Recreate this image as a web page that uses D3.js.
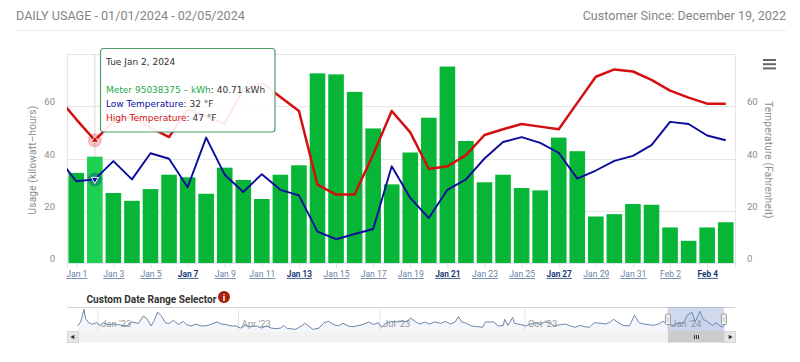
<!DOCTYPE html>
<html><head><meta charset="utf-8">
<script src="https://cdn.jsdelivr.net/npm/d3@7/dist/d3.min.js"></script>
<style>
html,body{margin:0;padding:0;background:#fff;}
svg{display:block;font-family:Roboto,sans-serif;}
</style></head><body>
<svg id="c" width="800" height="362"></svg>
<script>
const days = ["Jan 1","Jan 2","Jan 3","Jan 4","Jan 5","Jan 6","Jan 7","Jan 8","Jan 9","Jan 10","Jan 11","Jan 12","Jan 13","Jan 14","Jan 15","Jan 16","Jan 17","Jan 18","Jan 19","Jan 20","Jan 21","Jan 22","Jan 23","Jan 24","Jan 25","Jan 26","Jan 27","Jan 28","Jan 29","Jan 30","Jan 31","Feb 1","Feb 2","Feb 3","Feb 4","Feb 5"];
const boldDays = ["Jan 7","Jan 13","Jan 21","Jan 27","Feb 4"];
const usage = [34.5,40.71,26.8,23.8,28.3,33.8,32.8,26.5,36.5,31.8,24.5,33.8,37.4,72.6,72.2,65.5,51.5,30.1,42.3,55.6,75.2,46.7,30.9,33.8,28.7,27.8,48,42.8,17.8,18.7,22.6,22.3,13.6,8.5,13.6,15.6];
// Temperature series begin one day before the window (Dec 31), clipped by the plot edge
const lowTemp = [40.4,31.3,32,39,32,42,39.9,29,48,33.8,27.2,34,28,25.9,12,9.1,11.1,13,37,24.9,17.2,28,32,40,46.3,48.2,46,42.2,32.3,35.4,39.1,41,45.1,54,53.2,48.8,47];
const highTemp = [63.5,55,47,54,56,51.8,48.2,59,56,53.3,66.5,69,63.5,58.2,30,26.2,26.2,41.5,58.2,50,36,37,41.3,49,51.2,53.2,52.2,51.2,61.3,71.3,74.1,73.3,70.1,66,63.3,61,61];
const yTicks = [0,20,40,60,80];
const navDays = [9,11,13,14,16,18,21,23,25,28,31,34,37,40,43,47,50,52,55,57,59,61,64,66,69,72,75,77,80,83,86,89,92,96,99,102,105,108,111,114,117,121,124,127,130,133,136,138,140,
142,145,148,151,153,156,160,163,166,169,172,175,178,181,185,188,191,194,197,199,202,205,208,212,215,217,220,223,226,229,232,236,239,242,245,247,249,252,255,259,262,264,267,269,272,275,276,278,281,
282,286,289,292,295,298,301,304,307,311,314,317,320,323,326,329,332,336,339,342,344,347,350,354,357,360,363,366,369,372,375,378,381,384,388,390,393,395,398,400,403,406,408,412,414];
const navUsage = [19,34,81,46,31,25,31,21,31,24,26,24,21,19,34,28,56,49,19,40,71,59,31,28,40,24,36,24,19,26,19,19,24,34,26,24,19,19,11,21,16,19,11,19,11,9,11,21,9,
9,6,15,29,21,6,11,31,36,24,19,29,19,16,21,26,34,24,31,14,31,36,34,36,34,49,36,26,34,26,34,29,36,26,34,54,34,29,19,16,14,34,34,34,19,21,44,21,51,
29,24,19,26,31,24,34,31,19,24,26,19,14,21,16,14,31,29,26,34,44,31,21,19,59,31,26,24,21,26,36,26,21,29,31,59,71,34,74,44,34,21,31,14,26];
const navTickDays = [21.8,109.6,198,288.6,378];
const navTickLabels = ["Jan '23","Apr '23","Jul '23","Oct '23","Jan '24"];
const selection = [378,413];
const hoverIndex = 1;
const tooltipDate = "Tue Jan 2, 2024";
const tooltipRows = [
  {name:"Meter 95038375 – kWh", color:"#1fa84a", value:"40.71 kWh"},
  {name:"Low Temperature", color:"#0b0ba0", value:"32 °F"},
  {name:"High Temperature", color:"#d01010", value:"47 °F"}
];

const L=67,R=735,T=54,B=263;
const svg=d3.select("#c");
const x=d3.scaleLinear().domain([-0.5,days.length-0.5]).range([L,R]);
const y=d3.scaleLinear().domain([0,80]).range([B,T+0.0]);
const grey="#8c8c8c";

// header
svg.append("text").attr("x",16).attr("y",20).attr("font-size",12.6).attr("fill","#858585").text("DAILY USAGE - 01/01/2024 - 02/05/2024");
svg.append("text").attr("x",786).attr("y",20).attr("text-anchor","end").attr("font-size",12.6).attr("fill","#858585").text("Customer Since: December 19, 2022");
svg.append("line").attr("x1",16).attr("x2",786).attr("y1",30.5).attr("y2",30.5).attr("stroke","#ececec");

// grid
const gy=svg.append("g");
gy.selectAll("line").data(yTicks).join("line").attr("x1",L).attr("x2",R)
  .attr("y1",d=>Math.round(y(d))+0.5).attr("y2",d=>Math.round(y(d))+0.5).attr("stroke","#e6e6e6");
svg.append("line").attr("x1",L+.5).attr("x2",L+.5).attr("y1",T).attr("y2",B).attr("stroke","#e6e6e6");
svg.append("line").attr("x1",R+.5).attr("x2",R+.5).attr("y1",T).attr("y2",B).attr("stroke","#e6e6e6");
svg.append("line").attr("x1",x(hoverIndex)).attr("x2",x(hoverIndex)).attr("y1",T).attr("y2",B).attr("stroke","#d8d8d8");

// y labels
[[L-12,"end"],[R+12,"start"]].forEach(([px,a])=>{
  svg.append("g").selectAll("text").data(yTicks.slice(0,4)).join("text")
   .attr("x",px).attr("y",d=>y(d)-1).attr("text-anchor",a).attr("font-size",9.5).attr("fill",grey).text(d=>d);
});
svg.append("text").attr("transform","translate(36,160) rotate(-90)").attr("text-anchor","middle").attr("font-size",10).attr("fill",grey).attr("letter-spacing",.2).text("Usage (kilowatt–hours)");
svg.append("text").attr("transform","translate(765,160) rotate(90)").attr("text-anchor","middle").attr("font-size",10).attr("fill",grey).attr("letter-spacing",.2).text("Temperature (Fahrenheit)");

// hamburger
svg.append("g").selectAll("rect").data([0,1,2]).join("rect").attr("x",763).attr("width",13).attr("y",d=>59+d*4.2).attr("height",2).attr("fill","#666");

// bars
const bw=15.6;
svg.append("g").selectAll("rect").data(usage).join("rect")
  .attr("x",(d,i)=>x(i)-bw/2).attr("width",bw).attr("y",d=>y(d)).attr("height",d=>B-y(d))
  .attr("fill",(d,i)=>i===hoverIndex?"#1fd150":"#08b637");

// x axis
const axis=d3.axisBottom(x).tickValues(d3.range(0,days.length,2)).tickFormat(i=>days[i]).tickSize(5);
const gx=svg.append("g").attr("transform",`translate(0,${B})`).call(axis);
gx.select(".domain").attr("stroke","#dfe5ee");
gx.selectAll(".tick line").attr("stroke","#dfe5ee");
gx.selectAll(".tick text").attr("font-family","Roboto,sans-serif").attr("y",8)
  .attr("font-size",i=>boldDays.includes(days[i])?8.3:8.6)
  .attr("text-decoration","underline")
  .attr("fill",i=>boldDays.includes(days[i])?"#1d3a78":"#6b7fa6")
  .attr("font-weight",i=>boldDays.includes(days[i])?"700":"400");

// lines
svg.append("defs").append("clipPath").attr("id","pc").append("rect").attr("x",L).attr("y",T).attr("width",R-L).attr("height",B-T);
const line=d3.line().x((d,i)=>x(i-1)).y(d=>y(d));
const gl=svg.append("g").attr("clip-path","url(#pc)");
gl.append("path").attr("d",line(highTemp)).attr("fill","none").attr("stroke","#d40f0f").attr("stroke-width",2.5).attr("stroke-linejoin","round");
gl.append("path").attr("d",line(lowTemp)).attr("fill","none").attr("stroke","#0a0a9c").attr("stroke-width",1.9).attr("stroke-linejoin","round");

// hover markers
const sym=(t,s)=>d3.symbol().type(t).size(s)();
const hx=x(hoverIndex);
svg.append("circle").attr("cx",hx).attr("cy",y(highTemp[hoverIndex+1])).attr("r",7).attr("fill","#d40f0f").attr("opacity",.28);
svg.append("path").attr("d",sym(d3.symbolTriangle,22)).attr("transform",`translate(${hx},${y(highTemp[hoverIndex+1])})`).attr("fill","#c01010").attr("stroke","#fff").attr("stroke-width",.8);
svg.append("circle").attr("cx",hx).attr("cy",y(lowTemp[hoverIndex+1])).attr("r",7).attr("fill","#0a0a9c").attr("opacity",.3);
svg.append("path").attr("d",sym(d3.symbolTriangle,22)).attr("transform",`translate(${hx},${y(lowTemp[hoverIndex+1])}) rotate(180)`).attr("fill","#0a0a9c").attr("stroke","#fff").attr("stroke-width",1);

// tooltip
const tip=svg.append("g").attr("transform","translate(100,48)");
tip.append("rect").attr("x",.5).attr("y",.5).attr("width",174.5).attr("height",83.5).attr("rx",3).attr("fill","#fff").attr("fill-opacity",.92).attr("stroke","#4f9e6c").attr("stroke-width",1.2);
const tf="'DejaVu Sans',sans-serif";
tip.append("text").attr("x",6).attr("y",17).attr("font-family",tf).attr("font-size",9).attr("fill","#333").text(tooltipDate);
tooltipRows.forEach((r,i)=>{
  const t=tip.append("text").attr("x",6).attr("y",45+i*14).attr("font-family",tf).attr("font-size",9).attr("fill","#333");
  t.append("tspan").attr("fill",r.color).attr("font-weight",500).text(r.name);
  t.append("tspan").text(": "+r.value);
});

// navigator
const nT=307,nB=331;
const nx=d3.scaleLinear().domain([2.4,419.9]).range([L,R]);
const ny=d3.scaleLinear().domain([0,90]).range([nB,nT]);
svg.append("text").attr("x",86.5).attr("y",303).attr("font-size",10.1).attr("font-weight",700).attr("fill","#333").text("Custom Date Range Selector");
svg.append("circle").attr("cx",224).attr("cy",297).attr("r",6).attr("fill","#a8200d");
svg.append("text").attr("x",224).attr("y",300.5).attr("text-anchor","middle").attr("font-size",9.5).attr("font-weight",700).attr("fill","#fff").text("i");
svg.append("rect").attr("x",L).attr("y",nT).attr("width",R-L).attr("height",nB-nT).attr("fill","#fff");
svg.append("line").attr("x1",L).attr("x2",R).attr("y1",nT+.5).attr("y2",nT+.5).attr("stroke","#d4d4d4");
svg.append("g").selectAll("line").data(navTickDays).join("line").attr("x1",d=>nx(d)).attr("x2",d=>nx(d)).attr("y1",nT).attr("y2",nB).attr("stroke","#e6e6e6");
const pts=navDays.map((d,i)=>[d,navUsage[i]]);
svg.append("path").attr("d",d3.area().x(d=>nx(d[0])).y0(nB).y1(d=>ny(d[1]))(pts)).attr("fill","#6685c2").attr("fill-opacity",.07);
svg.append("g").selectAll("text").data(navTickLabels).join("text").attr("x",(d,i)=>nx(navTickDays[i])+3).attr("y",nB-4).attr("font-size",9.5).attr("fill","#999").text(d=>d);
svg.append("path").attr("d",d3.line().x(d=>nx(d[0])).y(d=>ny(d[1]))(pts)).attr("fill","none").attr("stroke","#6a87a8").attr("stroke-width",1);
const sx0=nx(selection[0]),sx1=nx(selection[1]);
svg.append("rect").attr("x",sx0).attr("y",nT).attr("width",sx1-sx0).attr("height",nB-nT).attr("fill","#6685c2").attr("fill-opacity",.3);
// scrollbar
svg.append("rect").attr("x",L).attr("y",nB+.5).attr("width",R-L).attr("height",11).attr("fill","#f2f2f2");
svg.append("rect").attr("x",sx0).attr("y",nB).attr("width",sx1-sx0).attr("height",11.5).attr("fill","#cccccc");
svg.append("g").selectAll("line").data([-2,0,2]).join("line").attr("x1",d=>(sx0+sx1)/2+d+.5).attr("x2",d=>(sx0+sx1)/2+d+.5).attr("y1",335).attr("y2",339).attr("stroke","#333");
[[L,-1],[R-11,1]].forEach(([bx,dir])=>{
  svg.append("rect").attr("x",bx+.5).attr("y",nB+.5).attr("width",11).attr("height",11).attr("fill","#e6e6e6").attr("stroke","#d6d6d6");
  svg.append("path").attr("d",d3.symbol().type(d3.symbolTriangle).size(9)()).attr("transform",`translate(${bx+6},337) rotate(${dir*90})`).attr("fill","#333");
});
[sx0,sx1].forEach(h=>{
  svg.append("rect").attr("x",h-2.5).attr("y",314).attr("width",5).attr("height",10.5).attr("rx",1).attr("fill","#f2f2f2").attr("stroke","#999");
  svg.append("rect").attr("x",h-.5).attr("y",317).attr("width",1).attr("height",5).attr("fill","#bbb");
});
</script>
</body></html>
